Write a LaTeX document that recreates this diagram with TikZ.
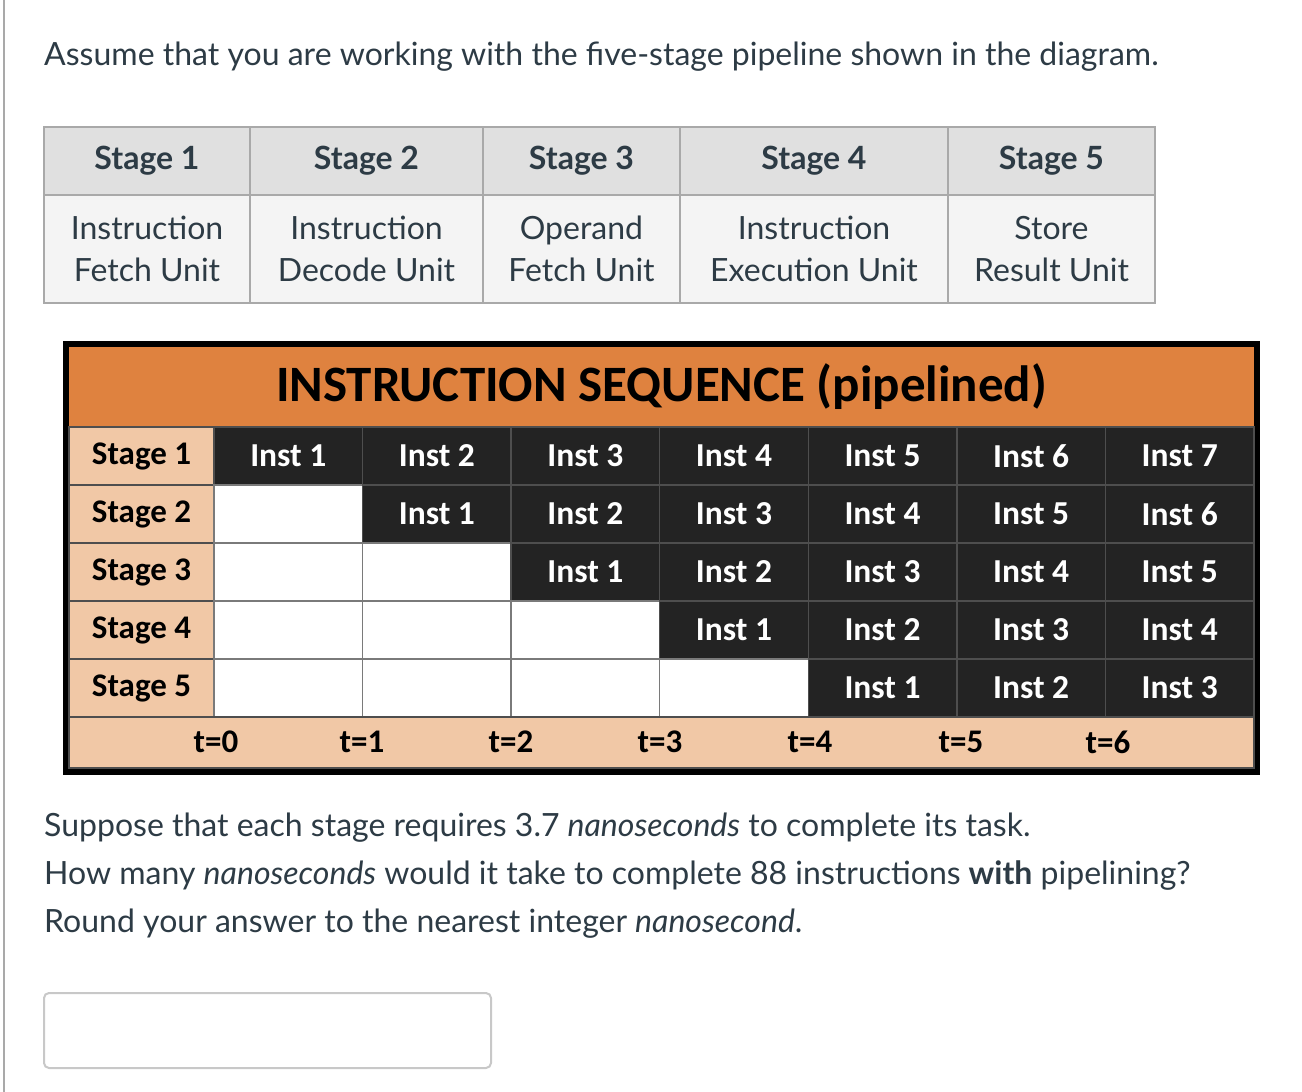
\documentclass[tikz,border=0pt]{standalone}
\usepackage{fontspec}
\setmainfont{Lato}
\newfontfamily\carl{Carlito}
\definecolor{txt}{HTML}{2D3B45}
\definecolor{tblline}{HTML}{A9A9A9}
\definecolor{hdrfill}{HTML}{E0E0E0}
\definecolor{bodyfill}{HTML}{F4F4F4}
\definecolor{orng}{HTML}{DF823F}
\definecolor{peach}{HTML}{F1C8A6}
\definecolor{darkcell}{HTML}{232323}
\definecolor{darkline}{HTML}{4E4E4E}
\definecolor{whiteline}{HTML}{7A7A7A}
\definecolor{boxline}{HTML}{C8C8C8}
\begin{document}
\begin{tikzpicture}[x=1pt,y=-1pt,
  hdr/.style={draw=tblline, line width=2pt, fill=hdrfill, minimum height=68pt, inner sep=0pt,
    text=txt, font=\fontsize{32}{42}\selectfont\bfseries},
  bodycell/.style={draw=tblline, line width=2pt, fill=bodyfill, minimum height=108pt, inner sep=0pt,
    text=txt, align=center, font=\fontsize{32}{42.5}\selectfont},
  stagelbl/.style={draw=darkline, line width=1.5pt, fill=peach, minimum width=145pt, minimum height=58pt,
    inner sep=0pt, font=\carl\fontsize{33}{36}\selectfont\bfseries, text=black},
  darkbox/.style={draw=darkline, line width=1.5pt, fill=darkcell, minimum width=148.57pt, minimum height=58pt,
    inner sep=0pt, font=\carl\fontsize{33.5}{36}\selectfont\bfseries, text=white},
  whitebox/.style={draw=whiteline, line width=1.5pt, fill=white, minimum width=148.57pt, minimum height=58pt,
    inner sep=0pt},
  tlbl/.style={font=\carl\fontsize{33}{36}\selectfont\bfseries, text=black, inner sep=0pt},
  para/.style={anchor=base west, inner sep=0pt, text=txt, font=\fontsize{32}{36}\selectfont}
]
\useasboundingbox (0,0) rectangle (1302,1092);
\fill[white] (0,0) rectangle (1302,1092);
% left rule
\draw[line width=2pt, color=tblline] (3.5,0) coordinate (ruletop) -- (3.5,1092) coordinate (rulebot);

% intro text
\node[para] (intro) at (44,65) {Assume that you are working with the five-stage pipeline shown in the diagram.};

% top table
\node[hdr, minimum width=206pt] (h1) at (147,161) {Stage 1};
\node[hdr, minimum width=233pt] (h2) at (366.5,161) {Stage 2};
\node[hdr, minimum width=197pt] (h3) at (581.5,161) {Stage 3};
\node[hdr, minimum width=268pt] (h4) at (814,161) {Stage 4};
\node[hdr, minimum width=207pt] (h5) at (1051.5,161) {Stage 5};
\node[bodycell, minimum width=206pt] (b1) at (147,249) {Instruction\\Fetch Unit};
\node[bodycell, minimum width=233pt] (b2) at (366.5,249) {Instruction\\Decode Unit};
\node[bodycell, minimum width=197pt] (b3) at (581.5,249) {Operand\\Fetch Unit};
\node[bodycell, minimum width=268pt] (b4) at (814,249) {Instruction\\Execution Unit};
\node[bodycell, minimum width=207pt] (b5) at (1051.5,249) {Store\\Result Unit};

% pipeline figure
\node[fill=black, minimum width=1197pt, minimum height=434pt, inner sep=0pt] (frame) at (661.5,558) {};
\node[fill=orng, minimum width=1185pt, minimum height=80pt, inner sep=0pt,
  font=\carl\fontsize{51}{54}\selectfont\bfseries, text=black] (title) at (661.5,387)
  {INSTRUCTION SEQUENCE (pipelined)};
\foreach \r in {1,...,5}{
  \node[stagelbl] (s\r) at (141.5,{427+58*(\r-0.5)}) {Stage \r};
  \foreach \c in {1,...,7}{
    \pgfmathtruncatemacro{\k}{\c-\r+1}
    \ifnum\c<\r
      \node[whitebox] (c\r-\c) at ({214+148.57*(\c-0.5)},{427+58*(\r-0.5)}) {};
    \else
      \node[darkbox] (c\r-\c) at ({214+148.57*(\c-0.5)},{427+58*(\r-0.5)}) {Inst \k};
    \fi
  }
}
\node[fill=peach, draw=darkline, line width=1.5pt, minimum width=1185pt, minimum height=51pt, inner sep=0pt] (trow) at (661.5,742.5) {};
\foreach \t/\x in {0/216,1/362,2/511,3/660,4/810,5/961,6/1108}{
  \node[tlbl] (t\t) at (\x,742) {t=\t};
}

% question text
\node[para] (q1) at (44,836) {Suppose that each stage requires 3.7 \textit{nanoseconds} to complete its task.};
\node[para] (q2) at (44,884) {How many \textit{nanoseconds} would it take to complete 88 instructions \textbf{with} pipelining?};
\node[para] (q3) at (44,932) {Round your answer to the nearest integer \textit{nanosecond}.};

% answer box
\node[draw=boxline, line width=2pt, rounded corners=5pt, minimum width=447pt, minimum height=75pt, inner sep=0pt] (answer) at (267.5,1030.5) {};
\end{tikzpicture}
\end{document}
